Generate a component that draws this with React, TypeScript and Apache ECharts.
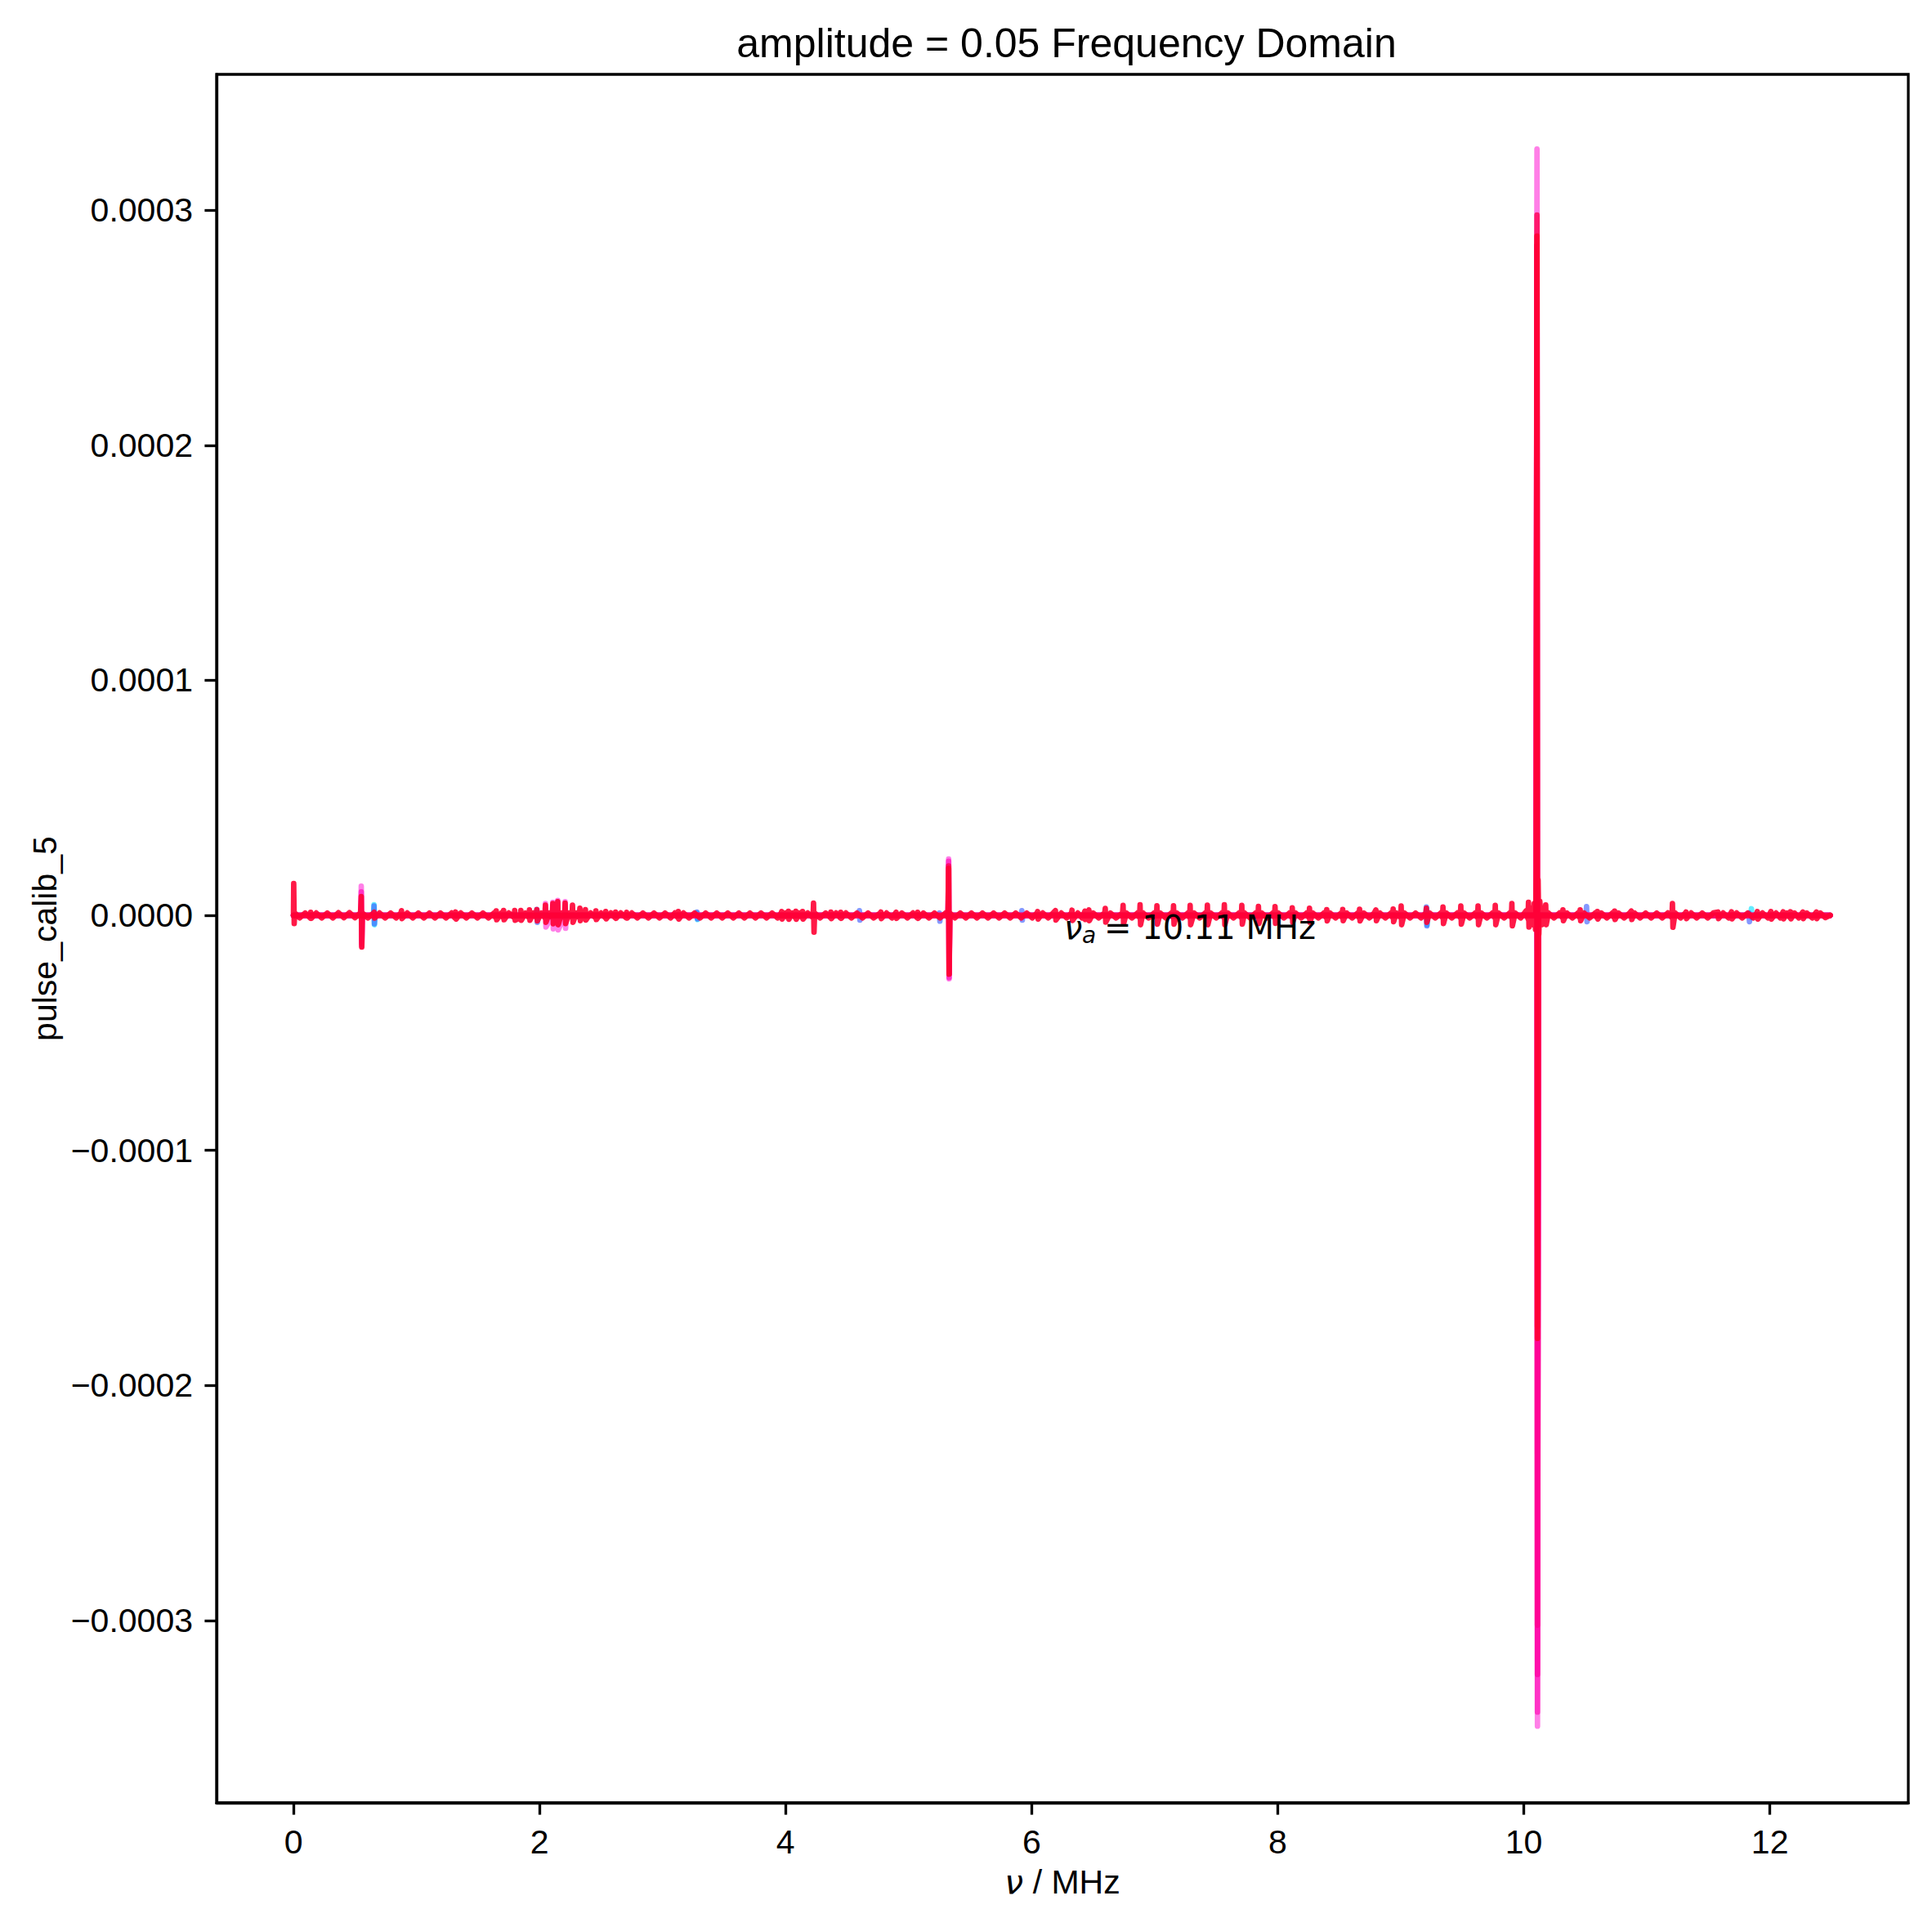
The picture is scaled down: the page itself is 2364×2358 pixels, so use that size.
import React, { useEffect, useRef } from "react";
import * as echarts from "echarts";

const TITLE = "amplitude = 0.05 Frequency Domain";
const Y_LABEL = "pulse_calib_5";
const X_TICKS = [0, 2, 4, 6, 8, 10, 12];
const Y_TICKS = [-0.0003, -0.0002, -0.0001, 0, 0.0001, 0.0002, 0.0003];
const X_MIN = -0.625;
const X_MAX = 13.125;
const Y_MIN = -0.0003776;
const Y_MAX = 0.0003578;
const ANNOT_X = 6.263;
const ANNOT_Y = -1.0e-5;
const ANNOT_SUB = "a";
const ANNOT_REST = "= 10.11 MHz";

// [frequency in MHz, value in units of 1e-6]
const CYAN_TRACE = [
  [0, 0], [0.652, 0], [0.655, 4.5], [0.658, -4], [0.662, 0], [3.276, 0], [3.28, 1], [3.284, -1.8], [3.288, 0],
  [9.206, 0], [9.21, 3], [9.214, -4], [9.218, 0], [11.846, 0], [11.85, 2.8], [11.854, -1], [11.858, 0], [12.49, 0],
];

const BLUE_TRACE = [
  [0, 0], [0.652, 0], [0.655, 4], [0.658, -3.6], [0.662, 0], [1.975, 0], [1.978, 2.5], [1.982, -3], [1.985, 0],
  [3.276, 0], [3.279, 1.4], [3.283, -1.5], [3.286, 0], [4.596, 0], [4.6, 2], [4.604, -2], [4.608, 0],
  [5.245, 0], [5.25, 1], [5.254, -2.5], [5.258, 0], [5.916, 0], [5.92, 2], [5.924, -2], [5.928, 0],
  [9.204, 0], [9.208, 3.5], [9.212, -4.5], [9.216, 0], [10.1, 0], [10.107, 12], [10.111, -15], [10.12, 0],
  [10.506, 0], [10.51, 3.7], [10.514, -2.7], [10.518, 0], [11.826, 0], [11.83, 1], [11.834, -2.7], [11.838, 0], [12.49, 0],
];

const MAGENTA_TRACE = [
  [0, 0], [0.548, 0], [0.551, 12.4], [0.555, -12], [0.56, 0], [2.045, 0], [2.048, 5], [2.052, -5], [2.105, 0],
  [2.108, 5.5], [2.112, -5.8], [2.145, 0], [2.148, 6.3], [2.152, -6.2], [2.205, 0], [2.208, 5.8], [2.212, -5.5],
  [2.215, 0], [5.32, 0], [5.325, 24], [5.329, -27], [5.335, 0], [10.1, 0], [10.107, 326], [10.111, -345], [10.12, 0], [12.49, 0],
];

const ORCHID_TRACE = [
  [0, 0], [0.548, 0], [0.551, 10], [0.555, -13], [0.56, 0], [5.32, 0], [5.325, 23], [5.329, -26.5], [5.335, 0],
  [10.1, 0], [10.107, 285], [10.111, -339], [10.12, 0], [12.49, 0],
];

const FUCHSIA_TRACE = [[0, 0], [10.1, 0], [10.107, 285], [10.111, -323], [10.12, 0], [12.49, 0]];

const DEEP_PINK_TRACE = [[0, 0], [10.1, 0], [10.107, 285], [10.111, -302], [10.12, 0], [12.49, 0]];

const CRIMSON_TRACE = [[0, 0], [5.32, 0], [5.325, 21], [5.329, -25], [5.335, 0], [10.1, 0], [10.107, 298], [10.111, -175], [10.12, 0], [12.49, 0]];

const RED_TRACE = [
  [0, 0], [0.002, 13.5], [0.006, -3.5], [0.01, 1], [0.05, -1.1], [0.095, 1], [0.137, -1.2], [0.14, 1.3], [0.145, -1.3],
  [0.185, 1], [0.23, -1.1], [0.275, 1], [0.32, -1.1], [0.365, 1.1], [0.41, -1], [0.455, 1.1], [0.5, -1], [0.545, 1],
  [0.551, 8], [0.555, -13.5], [0.56, 1], [0.605, -1.1], [0.65, 1], [0.656, 1.3], [0.66, -1.2], [0.7, 1], [0.745, -1.1],
  [0.79, 1], [0.835, -1.1], [0.874, 1], [0.878, 2], [0.882, -1.4], [0.925, 1], [0.97, -1.1], [1.015, 1], [1.06, -1.1],
  [1.105, 1], [1.15, -1.1], [1.195, 1], [1.24, -1.1], [1.285, 1], [1.31, -1], [1.318, 1.4], [1.322, -1.6], [1.36, 1],
  [1.405, -1.1], [1.45, 1], [1.495, -1.1], [1.54, 1], [1.585, -1.1], [1.63, 1], [1.643, -1], [1.648, 1.9], [1.652, -1.9],
  [1.69, 1], [1.704, -1], [1.708, 2.1], [1.712, -1.9], [1.75, 1], [1.794, -1], [1.798, 2.1], [1.802, -2.1], [1.844, -1],
  [1.848, 2.1], [1.852, -2.1], [1.885, 1], [1.914, -1], [1.918, 2.3], [1.922, -2.1], [1.95, 1], [1.974, -1], [1.978, 2.4],
  [1.982, -2.4], [2.015, 1], [2.043, -1], [2.048, 4.3], [2.052, -3], [2.08, 1], [2.103, -1], [2.108, 5], [2.112, -3.6],
  [2.13, 1], [2.143, -1], [2.148, 5.8], [2.152, -4], [2.18, 1], [2.203, -1], [2.208, 5.2], [2.212, -3.5], [2.24, 1],
  [2.263, -1], [2.268, 4.3], [2.272, -3], [2.3, 1], [2.323, -1], [2.328, 3], [2.332, -2.3], [2.35, 1], [2.369, -1],
  [2.373, 2.4], [2.377, -2], [2.415, 1], [2.453, -1], [2.458, 1.9], [2.462, -1.8], [2.5, 1], [2.533, -1], [2.538, 1.6],
  [2.542, -1.5], [2.58, 1], [2.613, -1], [2.618, 1.4], [2.622, -1.3], [2.66, 1], [2.703, -1], [2.708, 1.3], [2.712, -1.2],
  [2.75, 1], [2.795, -1.1], [2.84, 1], [2.885, -1.1], [2.93, 1], [2.975, -1.1], [3.02, 1], [3.065, -1.1], [3.1, 1],
  [3.124, -1], [3.128, 1.6], [3.132, -1.6], [3.17, 1], [3.215, -1.1], [3.26, 1], [3.305, -1.1], [3.35, 1], [3.395, -1.1],
  [3.44, 1], [3.485, -1.1], [3.53, 1], [3.575, -1.1], [3.62, 1], [3.665, -1.1], [3.71, 1], [3.755, -1.1], [3.8, 1],
  [3.845, -1.1], [3.89, 1], [3.935, -1.1], [3.964, 1], [3.968, 1.6], [3.972, -1.6], [4.0, 1], [4.019, -1], [4.023, 1.7],
  [4.027, -1.7], [4.055, 1], [4.079, -1], [4.083, 1.7], [4.087, -1.7], [4.11, 1], [4.134, -1], [4.138, 1.6], [4.142, -1.6],
  [4.18, 1], [4.223, -1], [4.227, 5.2], [4.231, -7.2], [4.236, 1], [4.28, -1.1], [4.325, 1], [4.364, -1], [4.368, 1.4],
  [4.372, -1.4], [4.41, 1], [4.444, -1], [4.448, 1.3], [4.452, -1.3], [4.49, 1], [4.535, -1.1], [4.58, 1], [4.625, -1.1],
  [4.67, 1], [4.715, -1.1], [4.77, 1], [4.774, 1.4], [4.778, -1.4], [4.82, 1], [4.865, -1.1], [4.894, 1], [4.898, 1.3],
  [4.902, -1.3], [4.945, 1], [4.99, -1.1], [5.035, 1], [5.069, -1], [5.073, 1.3], [5.077, -1.3], [5.12, 1], [5.165, -1.1],
  [5.21, 1], [5.255, -1.1], [5.3, 1], [5.321, -1], [5.325, 20], [5.329, -25], [5.334, 1], [5.375, -1.1], [5.42, 1],
  [5.465, -1.1], [5.51, 1], [5.555, -1.1], [5.6, 1], [5.645, -1.1], [5.69, 1], [5.735, -1.1], [5.78, 1], [5.825, -1.1],
  [5.87, 1], [5.915, -1.1], [5.96, 1], [6.005, -1.1], [6.044, 1], [6.048, 1.6], [6.052, -1.6], [6.09, 1], [6.135, -1.1],
  [6.175, 1], [6.193, 2], [6.197, -2], [6.24, 1], [6.285, -1.1], [6.324, 1], [6.328, 2.2], [6.332, -2.2], [6.375, 1],
  [6.41, -1.1], [6.433, 1.8], [6.437, -1.8], [6.455, 1], [6.465, 2.3], [6.469, -2.3], [6.5, 1], [6.545, -1.1], [6.594, 1],
  [6.598, 2.9], [6.602, -2.9], [6.64, 1], [6.685, -1.1], [6.739, 1], [6.743, 4.2], [6.747, -3.6], [6.77, 1], [6.815, -1.1],
  [6.86, 1], [6.877, -1], [6.881, 4.5], [6.885, -4], [6.905, 1], [6.95, -1.1], [6.995, 1], [7.014, -1], [7.018, 4.1],
  [7.022, -3.8], [7.045, 1], [7.09, -1.1], [7.135, 1], [7.149, -1], [7.153, 4.1], [7.157, -3.8], [7.18, 1], [7.225, -1.1],
  [7.27, 1], [7.284, -1], [7.288, 4.2], [7.292, -4], [7.32, 1], [7.365, -1.1], [7.41, 1], [7.424, -1], [7.428, 4.3],
  [7.432, -4], [7.455, 1], [7.5, -1.1], [7.545, 1], [7.562, -1], [7.566, 4.5], [7.57, -4], [7.595, 1], [7.64, -1.1],
  [7.685, 1], [7.704, -1], [7.708, 4.2], [7.712, -3.8], [7.73, 1], [7.775, -1.1], [7.82, 1], [7.839, -1], [7.843, 3.8],
  [7.847, -3.5], [7.87, 1], [7.915, -1.1], [7.96, 1], [7.974, -1], [7.978, 3.7], [7.982, -3.4], [8.005, 1], [8.05, -1.1],
  [8.095, 1], [8.114, -1], [8.118, 3.2], [8.122, -3], [8.145, 1], [8.19, -1.1], [8.235, 1], [8.254, -1], [8.258, 3],
  [8.262, -3], [8.285, 1], [8.33, -1.1], [8.375, 1], [8.394, -1], [8.398, 2.4], [8.402, -2.4], [8.425, 1], [8.47, -1.1],
  [8.515, 1], [8.524, -1], [8.528, 2.5], [8.532, -2.3], [8.56, 1], [8.605, -1.1], [8.65, 1], [8.661, -1], [8.665, 2.6],
  [8.669, -2.4], [8.7, 1], [8.745, -1.1], [8.785, 1], [8.798, 2.3], [8.802, -2.3], [8.83, 1], [8.875, -1.1], [8.92, 1],
  [8.934, -1], [8.938, 2.7], [8.942, -2.7], [8.965, 1], [8.999, -1], [9.003, 4], [9.007, -4], [9.03, 1], [9.075, -1.1],
  [9.12, 1], [9.165, -1.1], [9.204, 1], [9.208, 3], [9.212, -3], [9.235, 1], [9.28, -1.1], [9.325, 1], [9.339, -1],
  [9.343, 3.5], [9.347, -3.5], [9.37, 1], [9.415, -1.1], [9.46, 1], [9.484, -1], [9.488, 4], [9.492, -3.8], [9.515, 1],
  [9.56, -1.1], [9.605, 1], [9.624, -1], [9.628, 4], [9.632, -4], [9.655, 1], [9.7, -1.1], [9.745, 1], [9.764, -1],
  [9.768, 4.2], [9.772, -4], [9.795, 1], [9.84, -1.1], [9.885, 1], [9.899, -1], [9.903, 5], [9.907, -4.5], [9.93, 1],
  [9.975, -1.1], [10.02, 2], [10.034, -1.5], [10.038, 5.5], [10.042, -5], [10.06, 3], [10.075, -4], [10.085, 5],
  [10.095, -6], [10.103, 20], [10.107, 289], [10.111, -180], [10.116, 15], [10.122, -8], [10.13, 6], [10.145, -4],
  [10.16, 3], [10.174, -1.5], [10.178, 4.4], [10.182, -4], [10.2, 1], [10.245, -1.1], [10.29, 1], [10.314, -1],
  [10.318, 2.3], [10.322, -2.3], [10.35, 1], [10.395, -1.1], [10.44, 1], [10.454, -1], [10.458, 2.3], [10.462, -2.3],
  [10.49, 1], [10.535, -1.1], [10.58, 1], [10.594, -1], [10.598, 1.6], [10.602, -1.6], [10.63, 1], [10.675, -1.1],
  [10.72, 1], [10.734, -1], [10.738, 1.8], [10.742, -1.8], [10.77, 1], [10.815, -1.1], [10.86, 1], [10.874, 1.8],
  [10.878, -1.8], [10.9, 1], [10.945, -1.1], [10.99, 1], [11.035, -1.1], [11.08, 1], [11.125, -1.1], [11.17, 1],
  [11.204, -1], [11.208, 5], [11.212, -5.1], [11.23, 1], [11.275, -1.1], [11.314, 1], [11.318, 1.4], [11.322, -1.4],
  [11.36, 1], [11.405, -1.1], [11.45, 1], [11.495, -1.1], [11.54, 1], [11.578, 1.4], [11.582, -1.4], [11.62, 1],
  [11.665, -1.1], [11.688, 1.5], [11.692, -1.5], [11.73, 1], [11.775, -1.1], [11.82, 1], [11.865, -1.1], [11.894, 1],
  [11.898, 1.6], [11.902, -1.6], [11.94, 1], [11.985, -1.1], [12.008, 1.6], [12.012, -1.6], [12.05, 1], [12.085, -1.1],
  [12.108, 1.5], [12.112, -1.5], [12.14, 1], [12.164, -1], [12.168, 1.5], [12.172, -1.5], [12.2, 1], [12.235, -1.1],
  [12.268, 1.4], [12.272, -1.4], [12.3, 1], [12.345, -1.1], [12.378, 1.4], [12.382, -1.4], [12.41, 1], [12.45, -1],
  [12.49, 0],
];

const TRACES = [
  { name: "cyan", data: CYAN_TRACE, color: "#00e0ff", opacity: 0.6 },
  { name: "blue", data: BLUE_TRACE, color: "#3355ff", opacity: 0.6 },
  { name: "magenta", data: MAGENTA_TRACE, color: "#ff00d0", opacity: 0.5 },
  { name: "orchid", data: ORCHID_TRACE, color: "#ff00b0", opacity: 0.6 },
  { name: "fuchsia", data: FUCHSIA_TRACE, color: "#ff00a0", opacity: 0.7 },
  { name: "deeppink", data: DEEP_PINK_TRACE, color: "#ff0090", opacity: 0.8 },
  { name: "crimson", data: CRIMSON_TRACE, color: "#ff0050", opacity: 0.8 },
  { name: "red", data: RED_TRACE, color: "#ff0033", opacity: 0.9 },
];

const SANS = "'Liberation Sans', Arial, Helvetica, sans-serif";
const MATH = "'DejaVu Sans', sans-serif";

export default function App() {
  const ref = useRef<HTMLDivElement>(null);
  useEffect(() => {
    document.body.style.margin = "0";
    const chart = echarts.init(ref.current as HTMLDivElement, null, { renderer: "svg" });
    const series = TRACES.map((t) => ({
      type: "line",
      name: t.name,
      data: t.data.map(([x, y]) => [x, y * 1e-6]),
      showSymbol: false,
      symbol: "none",
      silent: true,
      clip: true,
      lineStyle: { color: t.color, opacity: t.opacity, width: 6.7, cap: "round", join: "round" },
      itemStyle: { color: t.color },
    }));
    chart.setOption({
      animation: false,
      backgroundColor: "#ffffff",
      title: {
        text: TITLE,
        left: 1300,
        textAlign: "center",
        top: 23,
        textStyle: { fontFamily: SANS, fontSize: 50, fontWeight: "normal", color: "#000" },
      },
      grid: {
        left: 265,
        top: 91,
        width: 2070,
        height: 2115,
        containLabel: false,
        outerBoundsMode: "none",
        show: true,
        borderColor: "#000",
        borderWidth: 3.3,
        backgroundColor: "transparent",
      },
      xAxis: {
        type: "value",
        min: X_MIN,
        max: X_MAX,
        name: "{i|ν} / MHz",
        nameLocation: "middle",
        nameGap: 76,
        nameTextStyle: {
          fontFamily: SANS,
          fontSize: 41,
          color: "#000",
          rich: { i: { fontFamily: MATH, fontStyle: "italic", fontSize: 41, color: "#000" } },
        },
        axisLine: { show: true, onZero: false, lineStyle: { color: "#000", width: 3.3 } },
        axisTick: { show: true, inside: false, length: 14.6, customValues: X_TICKS, lineStyle: { color: "#000", width: 3.3 } },
        axisLabel: {
          customValues: X_TICKS,
          margin: 27,
          fontFamily: SANS,
          fontSize: 41,
          color: "#000",
          formatter: (v: number) => String(Math.round(v)),
        },
        splitLine: { show: false },
      },
      yAxis: {
        type: "value",
        min: Y_MIN,
        max: Y_MAX,
        name: Y_LABEL,
        nameLocation: "middle",
        nameGap: 189,
        nameTextStyle: { fontFamily: SANS, fontSize: 41, color: "#000" },
        axisLine: { show: true, onZero: false, lineStyle: { color: "#000", width: 3.3 } },
        axisTick: { show: true, inside: false, length: 14.6, customValues: Y_TICKS, lineStyle: { color: "#000", width: 3.3 } },
        axisLabel: {
          customValues: Y_TICKS,
          margin: 29,
          fontFamily: SANS,
          fontSize: 41,
          color: "#000",
          formatter: (v: number) => {
            const s = Math.abs(v).toFixed(4);
            return v < -1e-12 ? "\u2212" + s : s;
          },
        },
        splitLine: { show: false },
      },
      series,
    });
    const p = chart.convertToPixel({ gridIndex: 0 }, [ANNOT_X, ANNOT_Y]) as number[];
    const bx = p[0];
    const by = p[1];
    chart.setOption({
      graphic: [
        {
          type: "text",
          x: bx,
          y: by - 14,
          z: 100,
          style: { text: "ν", fontFamily: MATH, fontStyle: "italic", fontSize: 40, fill: "#000", align: "left", verticalAlign: "middle" },
        },
        {
          type: "text",
          x: bx + 22,
          y: by + 6 - 9.8,
          z: 100,
          style: { text: ANNOT_SUB, fontFamily: MATH, fontStyle: "italic", fontSize: 28, fill: "#000", align: "left", verticalAlign: "middle" },
        },
        {
          type: "text",
          x: bx + 49,
          y: by - 14,
          z: 100,
          style: { text: ANNOT_REST, fontFamily: MATH, fontSize: 40, fill: "#000", align: "left", verticalAlign: "middle" },
        },
      ],
    });
    return () => chart.dispose();
  }, []);
  return <div ref={ref} style={{ width: 2364, height: 2358 }} />;
}
